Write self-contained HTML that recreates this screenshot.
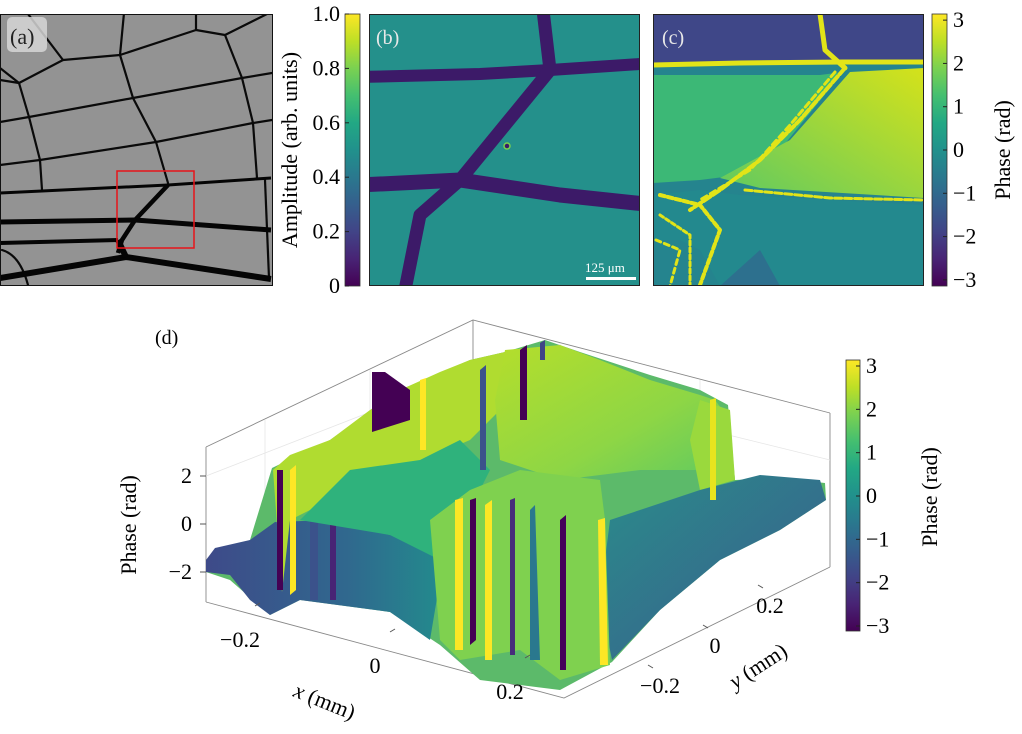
<!DOCTYPE html>
<html><head><meta charset="utf-8">
<style>
html,body{margin:0;padding:0;background:#fff;}
body{width:1022px;height:729px;overflow:hidden;font-family:"Liberation Serif","DejaVu Serif",serif;}
svg text{font-family:"Liberation Serif","DejaVu Serif",serif;}
</style></head>
<body>
<svg width="1022" height="729" viewBox="0 0 1022 729" xmlns="http://www.w3.org/2000/svg">
<defs>
<linearGradient id="vir" x1="0" y1="1" x2="0" y2="0">
<stop offset="0" stop-color="#440154"/><stop offset="0.1" stop-color="#482475"/><stop offset="0.2" stop-color="#414487"/><stop offset="0.3" stop-color="#355f8d"/><stop offset="0.4" stop-color="#2a788e"/><stop offset="0.5" stop-color="#21918c"/><stop offset="0.6" stop-color="#22a884"/><stop offset="0.7" stop-color="#44bf70"/><stop offset="0.8" stop-color="#7ad151"/><stop offset="0.9" stop-color="#bddf26"/><stop offset="1" stop-color="#fde725"/>
</linearGradient>
<linearGradient id="plat" x1="0" y1="0" x2="1" y2="1"><stop offset="0" stop-color="#b5de2b"/><stop offset="0.6" stop-color="#8ed645"/><stop offset="1" stop-color="#5ec962"/></linearGradient>
<linearGradient id="lowL" x1="0" y1="0" x2="1" y2="0"><stop offset="0" stop-color="#3e4a89"/><stop offset="0.6" stop-color="#30688e"/><stop offset="1" stop-color="#238a8d"/></linearGradient>
<linearGradient id="lowR" x1="0" y1="0" x2="1" y2="1"><stop offset="0" stop-color="#2a8c8b"/><stop offset="1" stop-color="#3b5b8c"/></linearGradient>
<linearGradient id="cplat" x1="0" y1="1" x2="1" y2="0"><stop offset="0" stop-color="#5ec962"/><stop offset="1" stop-color="#d5e21a"/></linearGradient>
<clipPath id="clipa"><rect x="0" y="14" width="272" height="272"/></clipPath>
<clipPath id="clipb"><rect x="369" y="14" width="271" height="272"/></clipPath>
<clipPath id="clipc"><rect x="653" y="14" width="271" height="272"/></clipPath>
</defs>

<!-- Panel a -->
<g clip-path="url(#clipa)">
<rect x="0" y="14" width="272" height="272" fill="#939393"/>
<g fill="none" stroke="#0a0a0a" stroke-width="2.2" stroke-linejoin="round" stroke-linecap="round">
<polyline points="0,68 19,83 63,60 120,55 124,13"/>
<polyline points="63,60 28,14"/>
<polyline points="120,55 196,30 196,14"/>
<polyline points="196,30 225,35 269,13"/>
<polyline points="19,83 29,117 133,98 242,78 272,73"/>
<polyline points="0,80 19,83"/>
<polyline points="120,55 133,98 156,142 168,183"/>
<polyline points="225,35 242,78 253,123 257,178"/>
<polyline points="0,122 29,117 40,160 156,142 253,123 272,120"/>
<polyline points="0,165 40,160 42,190"/>
<polyline points="265,180 269,278"/>
<path d="M2,250 Q20,255 28,285"/>
</g>
<g fill="none" stroke="#050505" stroke-linejoin="round">
<polyline points="0,193 168,185 271,178" stroke-width="3"/>
<polyline points="168,185 135,220 122,240 118,253" stroke-width="4.5"/>
<polyline points="0,222 135,220 271,230" stroke-width="5"/>
<polyline points="0,243 118,240" stroke-width="4"/>
<polyline points="0,278 126,257 271,279" stroke-width="6"/>
<polyline points="118,240 126,257" stroke-width="6"/>
</g>
<rect x="117" y="171" width="77" height="77" fill="none" stroke="#e8141a" stroke-width="1.5"/>
<rect x="7" y="17" width="40" height="35" rx="5" fill="#d6d6d6" opacity="0.85"/>
<text x="10" y="44" font-size="22" fill="#222">(a)</text>
</g>
<rect x="0.5" y="14.5" width="272" height="271" fill="none" stroke="#111" stroke-width="1"/>

<!-- Amplitude colorbar -->
<g>
<rect x="345" y="14" width="15" height="272" fill="url(#vir)" stroke="#333" stroke-width="0.8"/>
<g id="ampTicks"></g>
<text transform="translate(297,150) rotate(-90)" text-anchor="middle" font-size="22">Amplitude (arb. units)</text>
</g>

<!-- Panel b -->
<g clip-path="url(#clipb)">
<rect x="369" y="14" width="271" height="272" fill="#24908b"/>
<g fill="none" stroke="#3c1a68" stroke-linecap="round" stroke-linejoin="round">
<polyline points="360,77 480,74 550,70 640,64" stroke-width="12"/>
<polyline points="543,10 550,70 505,125 460,180 420,215 405,290" stroke-width="13"/>
<polyline points="360,185 460,180 560,195 645,204" stroke-width="15"/>
</g>
<circle cx="507" cy="146" r="3" fill="#3c1a68" stroke="#7ad151" stroke-width="1.5"/>
<text x="376" y="44" font-size="20" fill="#e8e8e8">(b)</text>
<text x="585" y="272" font-size="13" fill="#fff">125 μm</text>
<rect x="586" y="277" width="50" height="3" fill="#fff"/>
</g>
<rect x="369.5" y="14.5" width="270" height="271" fill="none" stroke="#222" stroke-width="1"/>

<!-- Panel c -->
<g clip-path="url(#clipc)">
<rect x="653" y="14" width="271" height="272" fill="#25848e"/>
<polygon points="653,14 924,14 924,62 843,62 653,67" fill="#3f4788"/>
<polygon points="653,75 820,75 843,72 780,150 740,175 700,180 653,183" fill="#3cb876"/>
<polygon points="850,72 924,68 924,198 760,188 720,178 790,140" fill="url(#cplat)"/>
<polygon points="653,195 700,190 740,195 924,205 924,286 720,286 700,250 680,240 653,240" fill="#23898e"/>
<polygon points="720,286 760,250 780,286" fill="#2d708e"/>
<g fill="none" stroke="#e2e418" stroke-linecap="round" stroke-linejoin="round">
<polyline points="653,65 740,63 843,62 924,62" stroke-width="5"/>
<polyline points="820,14 825,50 845,68" stroke-width="5"/>
<polyline points="845,68 800,120 760,160 720,190 690,210" stroke-width="4" stroke-dasharray="8 3"/>
<polyline points="835,72 790,125 750,170 700,200" stroke-width="3" stroke-dasharray="6 4"/>
<polyline points="745,190 830,198 924,200" stroke-width="3" stroke-dasharray="7 3"/>
<polyline points="660,195 700,205 720,230 700,285" stroke-width="4" stroke-dasharray="5 3"/>
<polyline points="660,215 690,235 690,285" stroke-width="3" stroke-dasharray="4 3"/>
<polyline points="656,240 680,250 670,286" stroke-width="3" stroke-dasharray="5 4"/>
</g>
<text x="662" y="44" font-size="20" fill="#e8e8e8">(c)</text>
</g>
<rect x="653.5" y="14.5" width="270" height="271" fill="none" stroke="#222" stroke-width="1"/>

<!-- Phase colorbar top -->
<g>
<rect x="932" y="14" width="15" height="272" fill="url(#vir)" stroke="#333" stroke-width="0.8"/>
<g id="phaseTicksTop"></g>
<text transform="translate(1010,150) rotate(-90)" text-anchor="middle" font-size="22">Phase (rad)</text>
</g>

<!-- Panel d -->
<g>
<text x="155" y="344" font-size="20">(d)</text>
<g stroke="#888" stroke-width="0.9" fill="none">
<polyline points="206,447 473,320 830,413"/>
<line x1="473" y1="320" x2="473" y2="480"/>
<line x1="206" y1="447" x2="206" y2="602"/>
<line x1="830" y1="413" x2="830" y2="567"/>
<polyline points="206,602 564,698 830,567"/>
</g>
<g stroke="#e6e6e6" stroke-width="0.8" fill="none">
<line x1="265" y1="420" x2="265" y2="560"/><line x1="370" y1="370" x2="370" y2="520"/>
<line x1="560" y1="343" x2="560" y2="470"/><line x1="700" y1="380" x2="700" y2="520"/>
<line x1="206" y1="476" x2="473" y2="372"/><line x1="473" y1="372" x2="830" y2="460"/>
</g>
<!-- base silhouette -->
<polygon points="206,560 250,540 272,468 330,440 400,390 470,360 505,352 545,340 580,352 650,375 700,390 728,405 735,480 780,478 825,483 826,500 780,530 720,560 660,610 612,662 560,690 480,680 440,645 390,612 300,600 270,615 230,580 206,572" fill="#5cba6a"/>
<polygon points="206,560 215,548 250,540 275,522 330,520 390,535 430,540 440,580 430,640 390,612 300,600 270,615 250,600 230,575 206,572" fill="url(#lowL)"/>
<polygon points="273,470 290,455 330,440 370,410 400,390 440,372 470,360 505,352 500,410 470,440 400,470 330,500 290,520 282,592" fill="#b0dc30"/>
<polygon points="372,372 385,372 410,390 410,420 372,432" fill="#440154"/>
<polygon points="277,470 283,470 283,590 277,590" fill="#440154"/>
<polygon points="290,470 296,465 296,590 290,595" fill="#fde725"/>
<polygon points="310,520 318,515 318,600 310,600" fill="#3b528b"/>
<polygon points="330,520 336,518 336,600 330,600" fill="#482475"/>
<polygon points="300,520 350,470 420,460 460,440 490,470 470,510 440,560 390,535" fill="#2fb27c"/>
<polygon points="495,400 505,350 560,345 600,360 650,380 700,395 715,400 730,420 720,470 640,470 560,480 500,460" fill="url(#plat)"/>
<polygon points="700,400 730,410 735,480 700,490 690,440" fill="#9ad93d"/>
<polygon points="610,520 700,490 760,475 820,480 826,500 780,530 720,560 660,610 612,660 600,600" fill="url(#lowR)"/>
<polygon points="430,520 470,490 520,470 600,480 605,520 610,665 560,680 520,650 460,660 440,640" fill="#7fd14f"/>
<polygon points="455,500 463,498 463,650 455,650" fill="#fde725"/>
<polygon points="470,500 476,498 476,640 470,645" fill="#440154"/>
<polygon points="485,505 492,500 492,660 485,660" fill="#fde725"/>
<polygon points="510,500 515,498 515,655 510,655" fill="#472d7b"/>
<polygon points="530,510 535,505 540,660 530,660" fill="#2a788e"/>
<polygon points="560,520 566,515 566,670 560,670" fill="#44015a"/>
<polygon points="598,520 605,518 608,665 600,665" fill="#fde725"/>
<polygon points="520,350 527,345 527,420 520,420" fill="#440154"/>
<polygon points="420,380 426,378 426,450 420,450" fill="#fde725"/>
<polygon points="480,370 486,365 486,470 480,470" fill="#3b528b"/>
<polygon points="540,343 545,340 545,360 540,360" fill="#404387"/>
<polygon points="710,400 716,398 716,500 710,500" fill="#e8e41e"/>
<g id="dTicks"></g>
<text transform="translate(136,525) rotate(-90)" text-anchor="middle" font-size="22">Phase (rad)</text>
<text transform="translate(322,708) rotate(22)" text-anchor="middle" font-size="22"><tspan font-style="italic">x</tspan> (mm)</text>
<text transform="translate(762,672) rotate(-33)" text-anchor="middle" font-size="22"><tspan font-style="italic">y</tspan> (mm)</text>
</g>

<!-- Phase colorbar d -->
<g>
<rect x="846" y="360" width="14" height="271" fill="url(#vir)" stroke="#333" stroke-width="0.8"/>
<g id="phaseTicksD"></g>
<text transform="translate(937,497) rotate(-90)" text-anchor="middle" font-size="22">Phase (rad)</text>
</g>
</svg>
<script>
const ampTicks=[0,0.2,0.4,0.6,0.8,1.0];
const ampTickLabels=["0","0.2","0.4","0.6","0.8","1.0"];
const phaseTicks=[-3,-2,-1,0,1,2,3];
const phaseTickLabels=["−3","−2","−1","0","1","2","3"];
const zTicks=[-2,0,2];
const zTickLabels=["−2","0","2"];
const xTicks=[-0.2,0,0.2];
const xTickLabels=["−0.2","0","0.2"];
const yTicks=[-0.2,0,0.2];
const yTickLabels=["−0.2","0","0.2"];
const NS="http://www.w3.org/2000/svg";
function mk(tag,attrs,parent){const e=document.createElementNS(NS,tag);for(const k in attrs)e.setAttribute(k,attrs[k]);parent.appendChild(e);return e;}
const ampY=v=>286-v*272;
const ga=document.getElementById('ampTicks');
ampTicks.forEach((v,i)=>{
 mk('line',{x1:345,x2:349,y1:ampY(v),y2:ampY(v),stroke:'#222','stroke-width':1},ga);
 const t=mk('text',{x:340,y:ampY(v)+7,'text-anchor':'end','font-size':22},ga);
 
 
 t.textContent=ampTickLabels[i];
});
const phY=v=>150-v*(136/Math.PI);
const gp=document.getElementById('phaseTicksTop');
phaseTicks.forEach((v,i)=>{
 mk('line',{x1:943,x2:947,y1:phY(v),y2:phY(v),stroke:'#222','stroke-width':1},gp);
 const t=mk('text',{x:953,y:phY(v)+7,'font-size':22},gp);
 
 
 t.textContent=phaseTickLabels[i];
});
const phY2=v=>496-v*(130/3.0);
const gd=document.getElementById('phaseTicksD');
phaseTicks.forEach((v,i)=>{
 mk('line',{x1:856,x2:860,y1:phY2(v),y2:phY2(v),stroke:'#222','stroke-width':1},gd);
 const t=mk('text',{x:866,y:phY2(v)+7,'font-size':22},gd);
 
 
 t.textContent=phaseTickLabels[i];
});
const g3=document.getElementById('dTicks');
const zY=v=>524-v*24;
zTicks.forEach((v,i)=>{
 mk('line',{x1:206,x2:200,y1:zY(v),y2:zY(v),stroke:'#555','stroke-width':1},g3);
 const t=mk('text',{x:192,y:zY(v)+7,'text-anchor':'end','font-size':22},g3);
 
 
 t.textContent=zTickLabels[i];
});
const xAx=v=>({x:385+v*675,y:643+v*130});
xTicks.forEach((v,i)=>{
 const p=xAx(v);
 mk('line',{x1:p.x+10,y1:p.y-14,x2:p.x+5,y2:p.y-11,stroke:'#555','stroke-width':1},g3);
 const t=mk('text',{x:p.x-10,y:p.y+30,'text-anchor':'middle','font-size':22},g3);
 
 
 t.textContent=xTickLabels[i];
});
const yAx=v=>({x:715+v*275,y:645-v*200});
yTicks.forEach((v,i)=>{
 const p=yAx(v);
 mk('line',{x1:p.x-12,y1:p.y-20,x2:p.x-7,y2:p.y-17,stroke:'#555','stroke-width':1},g3);
 const t=mk('text',{x:p.x,y:p.y+8,'text-anchor':'middle','font-size':22},g3);
 
 
 t.textContent=yTickLabels[i];
});
</script>
</body></html>
